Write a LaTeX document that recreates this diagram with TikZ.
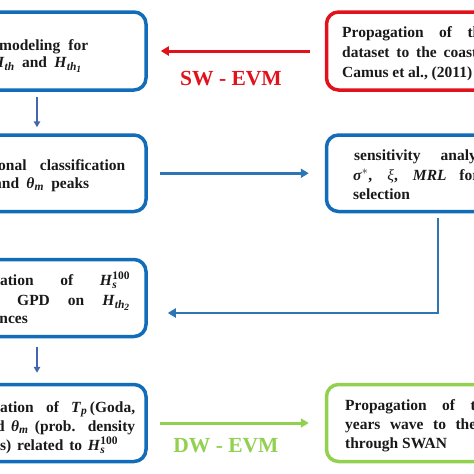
\documentclass[tikz,border=0pt]{standalone}
\usepackage{amsmath}
\usepackage{fontspec}
\setmainfont{Liberation Serif}
\usetikzlibrary{arrows.meta}
\DeclareMathSizes{15.5}{15.5}{11.5}{9.5}
\definecolor{boxblue}{RGB}{17,108,186}
\definecolor{arrblue}{RGB}{46,117,182}
\definecolor{downblue}{RGB}{68,102,178}
\definecolor{evmred}{RGB}{226,18,28}
\definecolor{evmgreen}{RGB}{146,208,80}
\definecolor{ink}{RGB}{25,25,25}
\newcommand{\jline}[2]{\makebox[#1][s]{#2}}
\newcommand{\mi}[1]{\textbf{\textit{#1}}}
\begin{document}
\begin{tikzpicture}[x=1pt,y=-1pt,
  box/.style={draw=boxblue,line width=3.5pt,rounded corners=12pt,inner sep=0pt,minimum height=77pt},
  lbox/.style={box,minimum width=216pt},
  rbox/.style={box,minimum width=233.5pt},
  txt/.style={inner sep=0pt,text=ink,font=\fontsize{15.5}{18}\selectfont\bfseries},
  evm/.style={inner sep=0pt,font=\fontsize{21.5}{24}\selectfont\bfseries},
  tipbig/.style={-{Triangle[length=8pt,width=9pt]}},
  tipsmall/.style={-{Triangle[length=6pt,width=6.5pt]}}]
\useasboundingbox (0,0) rectangle (474,474);
\clip (0,0) rectangle (474,474);
% boxes
\node[lbox,minimum height=78pt] (b1) at (38,51) {};
\node[rbox,draw=evmred,minimum height=78pt] (b2) at (443.25,51) {};
\node[lbox,minimum height=76.5pt] (b3) at (38,173.25) {};
\node[rbox,minimum height=76.5pt] (b4) at (443.25,173.25) {};
\node[lbox] (b5) at (38,298) {};
\node[lbox] (b6) at (38,423) {};
\node[rbox,draw=evmgreen] (b7) at (443.25,423) {};
% texts
\node[txt,anchor=base west] (t1a) at (-1,50) {\jline{89pt}{modeling for}};
\node[txt,anchor=base west] (t1b) at (-8,67) {\jline{90pt}{$\mi{H}_{\mi{th}}$ and $\mi{H}_{\mi{th}_{\mi{1}}}$}};
\node[txt,anchor=base west] (t2a) at (342,37) {\jline{146pt}{Propagation of the}};
\node[txt,anchor=base west] (t2b) at (342,57) {\jline{135pt}{dataset to the coast}};
\node[txt,anchor=base west] (t2c) at (342,77) {\jline{130pt}{Camus et al., (2011)}};
\node[txt,anchor=base west] (t3a) at (-2,170) {\jline{127pt}{onal classification}};
\node[txt,anchor=base west] (t3b) at (-6,188) {\jline{95pt}{and $\mi{θ}_{\mi{m}}$ peaks}};
\node[txt,anchor=base west] (t4a) at (354,160) {\jline{139pt}{sensitivity analysis}};
\node[txt,anchor=base west] (t4b) at (353,180) {\jline{126pt}{$\mi{σ}^{*}$, \textmd{\textit{ξ}}, \mi{MRL} for}};
\node[txt,anchor=base west] (t4c) at (353,199) {selection};
\node[txt,anchor=base west] (t5a) at (-7,285) {\jline{137pt}{ration of $\mi{H}_{\mi{s}}^{\textbf{100}}$}};
\node[txt,anchor=base west] (t5b) at (17,305) {\jline{113pt}{GPD on $\mi{H}_{\mi{th}_{\mi{2}}}$}};
\node[txt,anchor=base east] (t5c) at (28,323) {nces};
\node[txt,anchor=base west] (t6a) at (0,412) {\jline{135pt}{ation of $\mi{T}_{\mi{p}}$\,(Goda,}};
\node[txt,anchor=base west] (t6b) at (-4,431) {\jline{139pt}{d $\mi{θ}_{\mi{m}}$ (prob. density}};
\node[txt,anchor=base west] (t6c) at (0,450) {\jline{118pt}{s) related to $\mi{H}_{\mi{s}}^{\textbf{100}}$}};
\node[txt,anchor=base west] (t7a) at (345,410) {\jline{146pt}{Propagation of the}};
\node[txt,anchor=base west] (t7b) at (345,429) {\jline{131pt}{years wave to the}};
\node[txt,anchor=base west] (t7c) at (345,448) {through SWAN};
\node[evm,text=evmred,anchor=base] (lsw) at (231,85) {SW - EVM};
\node[evm,text=evmgreen,anchor=base] (ldw) at (226,452) {DW - EVM};
% connectors
\draw[tipbig,draw=evmred,line width=3pt,shorten <=15pt,shorten >=13pt] (b2.west) -- (b1.east);
\draw[tipsmall,draw=downblue,line width=2pt,shorten <=5pt,shorten >=6pt] ([xshift=-1pt]b1.south) -- ([xshift=-1pt]b3.north);
\draw[tipbig,draw=arrblue,line width=2.5pt,shorten <=12pt,shorten >=16pt] (b3.east) -- (b4.west);
\coordinate (e1) at (438,313);
\draw[tipbig,draw=arrblue,line width=2.5pt,shorten <=5pt,shorten >=20pt] (b4.south -| e1) -- (e1) -- (b5.east |- e1);
\draw[tipsmall,draw=downblue,line width=2pt,shorten <=9pt,shorten >=10pt] ([xshift=-1pt]b5.south) -- ([xshift=-1pt]b6.north);
\draw[tipbig,draw=evmgreen,line width=3pt,shorten <=12pt,shorten >=16pt] (b6.east) -- (b7.west);
\end{tikzpicture}
\end{document}
